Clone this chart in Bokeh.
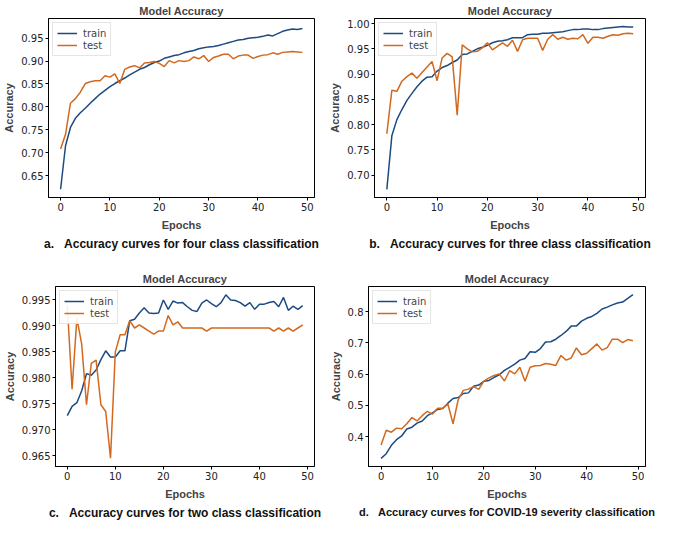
from bokeh.plotting import figure
from bokeh.layouts import column, row
from bokeh.models import (
    Range1d, FixedTicker, PrintfTickFormatter, LinearAxis, Legend, LegendItem
)
from bokeh.embed import file_html
from bokeh.resources import INLINE

epochs = list(range(50))

train_a = [0.620, 0.715, 0.755, 0.775, 0.787, 0.797, 0.808, 0.818, 0.828, 0.836,
           0.844, 0.851, 0.857, 0.863, 0.870, 0.876, 0.882, 0.886, 0.892, 0.897,
           0.900, 0.906, 0.909, 0.912, 0.914, 0.918, 0.921, 0.923, 0.927, 0.929,
           0.931, 0.932, 0.934, 0.937, 0.940, 0.943, 0.946, 0.947, 0.950, 0.951,
           0.952, 0.954, 0.957, 0.955, 0.960, 0.965, 0.968, 0.970, 0.969, 0.971]
test_a = [0.708, 0.740, 0.808, 0.818, 0.832, 0.851, 0.855, 0.857, 0.857, 0.868,
          0.865, 0.872, 0.851, 0.882, 0.887, 0.890, 0.885, 0.896, 0.897, 0.899,
          0.895, 0.888, 0.901, 0.896, 0.901, 0.899, 0.901, 0.909, 0.905, 0.912,
          0.899, 0.908, 0.911, 0.915, 0.915, 0.905, 0.911, 0.913, 0.913, 0.906,
          0.910, 0.913, 0.914, 0.918, 0.915, 0.919, 0.920, 0.921, 0.920, 0.919]

train_b = [0.672, 0.778, 0.810, 0.830, 0.848, 0.862, 0.875, 0.886, 0.894, 0.895,
           0.906, 0.913, 0.917, 0.923, 0.928, 0.939, 0.940, 0.945, 0.950, 0.953,
           0.957, 0.962, 0.965, 0.966, 0.968, 0.972, 0.972, 0.972, 0.978, 0.979,
           0.979, 0.981, 0.981, 0.982, 0.983, 0.984, 0.986, 0.988, 0.988, 0.989,
           0.989, 0.988, 0.988, 0.990, 0.991, 0.992, 0.993, 0.994, 0.993, 0.993]
test_b = [0.782, 0.868, 0.866, 0.886, 0.895, 0.902, 0.892, 0.903, 0.914, 0.925,
          0.887, 0.932, 0.941, 0.934, 0.819, 0.958, 0.950, 0.944, 0.945, 0.952,
          0.962, 0.948, 0.955, 0.962, 0.955, 0.967, 0.945, 0.968, 0.971, 0.971,
          0.971, 0.947, 0.969, 0.978, 0.969, 0.973, 0.969, 0.971, 0.970, 0.978,
          0.961, 0.973, 0.973, 0.971, 0.975, 0.978, 0.977, 0.980, 0.981, 0.980]

train_c = [0.9727, 0.9745, 0.9752, 0.9775, 0.9808, 0.9805, 0.9815, 0.9835, 0.9852, 0.9840,
           0.9840, 0.9852, 0.9852, 0.9910, 0.9913, 0.9925, 0.9935, 0.9925, 0.9924, 0.9925,
           0.9950, 0.9932, 0.9948, 0.9944, 0.9945, 0.9937, 0.9930, 0.9928, 0.9944, 0.9950,
           0.9943, 0.9937, 0.9945, 0.9960, 0.9950, 0.9949, 0.9945, 0.9938, 0.9945, 0.9932,
           0.9942, 0.9942, 0.9945, 0.9947, 0.9937, 0.9955, 0.9930, 0.9938, 0.9932, 0.9939]
test_c = [0.9940, 0.9778, 0.9915, 0.9865, 0.9748, 0.9828, 0.9834, 0.9748, 0.9735, 0.9645,
          0.9850, 0.9883, 0.9883, 0.9910, 0.9896, 0.9902, 0.9896, 0.9890, 0.9884, 0.9890,
          0.9890, 0.9920, 0.9902, 0.9908, 0.9896, 0.9896, 0.9896, 0.9896, 0.9896, 0.9890,
          0.9896, 0.9896, 0.9896, 0.9896, 0.9896, 0.9896, 0.9896, 0.9896, 0.9896, 0.9896,
          0.9896, 0.9896, 0.9896, 0.9890, 0.9896, 0.9890, 0.9896, 0.9890, 0.9896, 0.9902]

train_d = [0.330, 0.345, 0.372, 0.390, 0.402, 0.424, 0.430, 0.443, 0.450, 0.467,
           0.476, 0.487, 0.490, 0.507, 0.522, 0.525, 0.538, 0.540, 0.561, 0.565,
           0.577, 0.580, 0.590, 0.598, 0.612, 0.622, 0.632, 0.645, 0.650, 0.672,
           0.670, 0.682, 0.703, 0.704, 0.712, 0.724, 0.737, 0.754, 0.754, 0.770,
           0.779, 0.785, 0.795, 0.809, 0.815, 0.822, 0.828, 0.831, 0.843, 0.855]
test_d = [0.373, 0.420, 0.414, 0.427, 0.425, 0.441, 0.461, 0.450, 0.467, 0.481,
          0.472, 0.491, 0.491, 0.504, 0.441, 0.518, 0.548, 0.552, 0.560, 0.551,
          0.578, 0.588, 0.596, 0.601, 0.578, 0.611, 0.601, 0.622, 0.577, 0.622,
          0.627, 0.628, 0.634, 0.632, 0.628, 0.660, 0.645, 0.652, 0.684, 0.662,
          0.667, 0.682, 0.697, 0.677, 0.685, 0.712, 0.712, 0.701, 0.711, 0.707]

x_ticks = [0, 10, 20, 30, 40, 50]
y_ticks_a = [0.65, 0.70, 0.75, 0.80, 0.85, 0.90, 0.95]
y_ticks_b = [0.70, 0.75, 0.80, 0.85, 0.90, 0.95, 1.00]
y_ticks_c = [0.965, 0.970, 0.975, 0.980, 0.985, 0.990, 0.995]
y_ticks_d = [0.4, 0.5, 0.6, 0.7, 0.8]

GAP = "\u00a0\u00a0\u00a0"
captions = [
    "a." + GAP + "Accuracy curves for four class classification",
    "b." + GAP + "Accuracy curves for three class classification",
    "c." + GAP + "Accuracy curves for two class classification",
    "d." + GAP + "Accuracy curves for COVID-19 severity classification",
]

TRAIN_COLOR = "#1c4b82"
TEST_COLOR = "#d2691e"
BOLD_FONT = "Liberation Sans"
TICK_FONT = "DejaVu Sans"


def panel(train, test, y_lo, y_hi, yticks, fmt, caption, width, height,
          top=0, bottom=0, left=0, right=12, cap_size="12px"):
    p = figure(
        width=width, height=height,
        x_range=Range1d(-2.45, 51.45), y_range=Range1d(y_lo, y_hi),
        title="Model Accuracy",
        x_axis_label="Epochs", y_axis_label="Accuracy",
        output_backend="svg", toolbar_location=None, tools="",
        min_border_top=top, min_border_bottom=bottom,
        min_border_left=left, min_border_right=right,
    )
    p.title.align = "center"
    p.title.text_font = BOLD_FONT
    p.title.text_font_size = "11px"
    p.title.text_font_style = "bold"
    p.title.offset = 0
    p.title.standoff = 4

    p.grid.grid_line_color = None
    p.outline_line_color = "black"
    p.outline_line_alpha = 1
    p.axis.axis_line_color = "black"
    p.axis.major_tick_in = 0
    p.axis.major_tick_out = 3
    p.axis.minor_tick_line_color = None
    p.axis.major_label_text_font = TICK_FONT
    p.axis.major_label_text_font_size = "10px"
    p.axis.major_label_text_color = "#222222"
    p.axis.major_label_standoff = 2
    p.axis.axis_label_text_font = BOLD_FONT
    p.axis.axis_label_text_font_size = "11px"
    p.axis.axis_label_text_font_style = "bold"
    p.axis.axis_label_standoff = 3
    p.xaxis.axis_label_standoff = 5
    p.xaxis.ticker = FixedTicker(ticks=x_ticks)
    p.yaxis.ticker = FixedTicker(ticks=yticks)
    p.yaxis.formatter = PrintfTickFormatter(format=fmt)

    r1 = p.line(epochs, train, line_color=TRAIN_COLOR, line_width=1.5)
    r2 = p.line(epochs, test, line_color=TEST_COLOR, line_width=1.5)

    legend = Legend(
        items=[LegendItem(label="train", renderers=[r1]),
               LegendItem(label="test", renderers=[r2])],
        location="top_left",
        label_text_font=TICK_FONT, label_text_font_size="10px",
        label_height=12, glyph_height=12, glyph_width=20,
        label_standoff=6, spacing=0, padding=4, margin=4,
        border_line_color="#cccccc", background_fill_alpha=0.9,
    )
    p.add_layout(legend)

    # caption under the panel, drawn as the label of a bare extra axis
    cap = LinearAxis(
        ticker=FixedTicker(ticks=[]),
        axis_line_color=None, major_tick_line_color=None,
        minor_tick_line_color=None, major_label_text_font_size="0px",
        major_tick_out=0, major_label_standoff=0,
        axis_label=caption, axis_label_standoff=3,
        axis_label_text_font=BOLD_FONT, axis_label_text_font_size=cap_size,
        axis_label_text_font_style="bold", axis_label_text_color="#111111",
    )
    p.add_layout(cap, "below")
    return p


pa = panel(train_a, test_a, 0.602, 0.993, y_ticks_a, "%.2f", captions[0],
           326, 253, bottom=50, right=12)
pb = panel(train_b, test_b, 0.656, 1.010, y_ticks_b, "%.2f", captions[1],
           334, 253, bottom=50, right=15)
pc = panel(train_c, test_c, 0.9629, 0.9976, y_ticks_c, "%.3f", captions[2],
           326, 269, top=33, bottom=50, right=12)
pd_ = panel(train_d, test_d, 0.304, 0.881, y_ticks_d, "%.1f", captions[3],
            334, 269, top=33, bottom=50, right=15, cap_size="11px")

layout = column(row(pa, pb), row(pc, pd_))

open("out.html", "w").write(file_html(layout, INLINE))
